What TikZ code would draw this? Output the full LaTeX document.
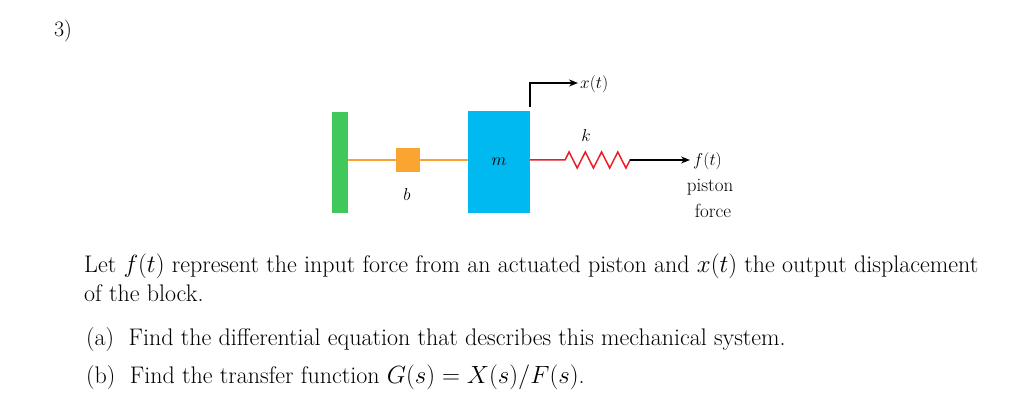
\documentclass[tikz,border=0pt]{standalone}
\usetikzlibrary{decorations.pathmorphing,arrows.meta}
\definecolor{wallg}{RGB}{64,200,90}
\definecolor{dampo}{RGB}{250,165,50}
\definecolor{blockb}{RGB}{0,185,240}
\definecolor{springr}{RGB}{235,30,40}
\begin{document}
\begin{tikzpicture}[x=1pt,y=-1pt,
  lbl/.style={inner sep=0pt,font=\fontsize{19}{22}\selectfont},
  txt/.style={inner sep=0pt,anchor=west,font=\fontsize{24}{28}\selectfont},
  arr/.style={-{Stealth[length=9pt,width=7pt]},line width=1.3pt}]
\useasboundingbox (0,0) rectangle (1024,411);
\node[lbl,font=\fontsize{22}{26}\selectfont] (num) at (63,31) {3)};
\fill[wallg] (332,112) rectangle (348,213);
\coordinate (w) at (348,160);
\node[draw=none,fill=blockb,minimum width=62pt,minimum height=102pt,inner sep=0pt] (m) at (499,162) {};
\node[lbl] at (499,162) {$m$};
\draw[dampo,line width=2pt] (w) -- (m.west|-w);
\node[fill=dampo,minimum size=24pt,inner sep=0pt] (b) at (408,160) {};
\node[lbl] at (407,195) {$b$};
\coordinate (s1) at (565,160);
\coordinate (s2) at (630,160);
\coordinate (f) at (690,160);
\draw[springr,line width=1.5pt] (m.east|-w) -- (s1)
  decorate[decoration={zigzag,segment length=16.25pt,amplitude=8pt}]{-- (s2)};
\draw[arr] (s2) -- (f);
\node[lbl] at (586,136) {$k$};
\node[lbl,anchor=west] at (693,161) {$f(t)$};
\node[lbl] at (710,187) {piston};
\node[lbl] at (713,211) {force};
\coordinate (x0) at (530,107);
\coordinate (x1) at (530,83);
\coordinate (x2) at (578,83);
\draw[arr] (x0) -- (x1) -- (x2);
\node[lbl,anchor=west] at (580,84) {$x(t)$};
\node[txt] at (84,266) {Let $f(t)$ represent the input force from an actuated piston and $x(t)$ the output displacement};
\node[txt] at (84,293) {of the block.};
\node[txt] at (86,340) {(a)\ \ Find the differential equation that describes this mechanical system.};
\node[txt] at (86,377) {(b)\ \ Find the transfer function $G(s)=X(s)/F(s)$.};
\end{tikzpicture}
\end{document}
